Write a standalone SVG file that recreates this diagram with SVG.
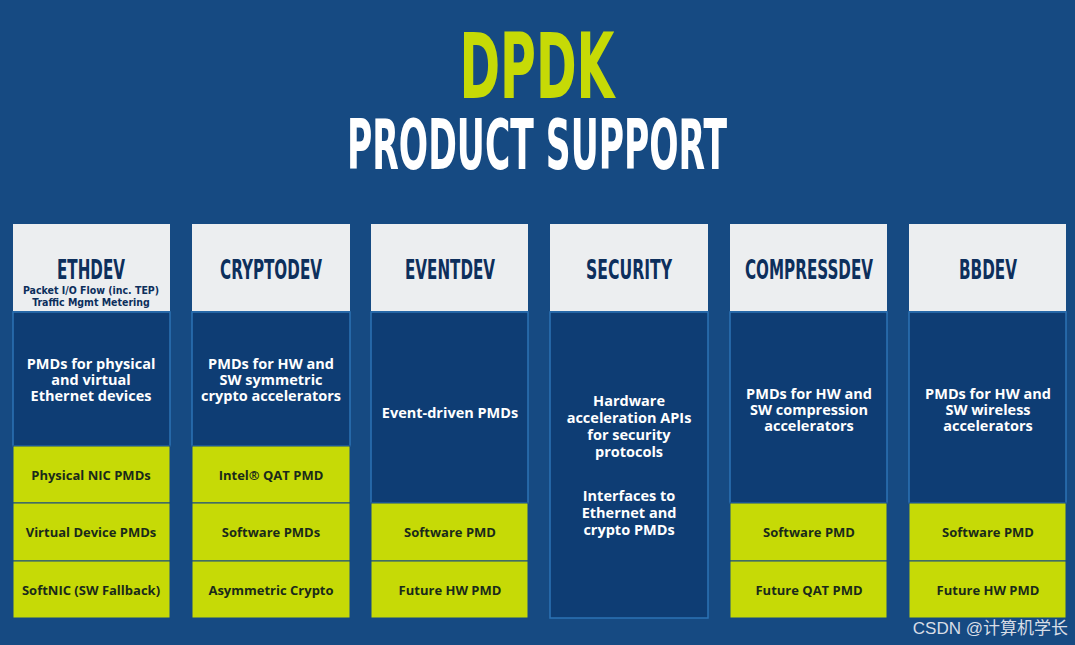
<svg xmlns="http://www.w3.org/2000/svg" width="1075" height="645" viewBox="0 0 1075 645">
<style>
.hd{fill:#eceef0}
.bd{fill:#0e3d74;stroke:#2d73b5;stroke-width:1.5}
.gr{fill:#c6da06;stroke:#174a82;stroke-width:1}
.ht{font-family:"Liberation Sans Narrow","DejaVu Sans Condensed",sans-serif;font-weight:bold;font-size:27px;fill:#0d2f5c;text-anchor:middle}
.st{font-family:"DejaVu Sans Condensed","DejaVu Sans",sans-serif;font-weight:bold;font-size:10.5px;fill:#0d2f5c;text-anchor:middle}
.bt{font-family:"Open Sans","DejaVu Sans",sans-serif;font-weight:bold;font-size:14.5px;fill:#ffffff;text-anchor:middle}
.gt{font-family:"Open Sans","DejaVu Sans",sans-serif;font-weight:bold;font-size:13px;fill:#1a2a1a;text-anchor:middle}
</style>
<rect width="1075" height="645" fill="#164a82"/>
<text x="537" y="98" text-anchor="middle" font-family="Liberation Sans Narrow,DejaVu Sans Condensed,sans-serif" font-weight="bold" font-size="90" fill="#c6da06" textLength="155" lengthAdjust="spacingAndGlyphs">DPDK</text>
<text x="537" y="169" text-anchor="middle" font-family="Liberation Sans Narrow,DejaVu Sans Condensed,sans-serif" font-weight="bold" font-size="70" fill="#ffffff" textLength="380" lengthAdjust="spacingAndGlyphs">PRODUCT SUPPORT</text>
<g id="ethdev">
<rect class="hd" x="13" y="224" width="157" height="87"/>
<text class="ht" x="91" y="279" textLength="68" lengthAdjust="spacingAndGlyphs">ETHDEV</text>
<text class="st" x="91" y="294">Packet I/O Flow (inc. TEP)<tspan x="91" dy="12">Traffic Mgmt Metering</tspan></text>
<rect class="bd" x="13" y="312" width="157" height="134"/>
<text class="bt" x="91" y="369">PMDs for physical<tspan x="91" dy="16">and virtual</tspan><tspan x="91" dy="16">Ethernet devices</tspan></text>
<rect class="gr" x="13" y="446" width="157" height="57"/><text class="gt" x="91" y="480">Physical NIC PMDs</text>
<rect class="gr" x="13" y="503" width="157" height="58"/><text class="gt" x="91" y="537">Virtual Device PMDs</text>
<rect class="gr" x="13" y="561" width="157" height="57"/><text class="gt" x="91" y="595">SoftNIC (SW Fallback)</text>
</g>
<g id="cryptodev">
<rect class="hd" x="192" y="224" width="158" height="87"/>
<text class="ht" x="271" y="279" textLength="102" lengthAdjust="spacingAndGlyphs">CRYPTODEV</text>
<rect class="bd" x="192" y="312" width="158" height="134"/>
<text class="bt" x="271" y="369">PMDs for HW and<tspan x="271" dy="16">SW symmetric</tspan><tspan x="271" dy="16">crypto accelerators</tspan></text>
<rect class="gr" x="192" y="446" width="158" height="57"/><text class="gt" x="271" y="480">Intel® QAT PMD</text>
<rect class="gr" x="192" y="503" width="158" height="58"/><text class="gt" x="271" y="537">Software PMDs</text>
<rect class="gr" x="192" y="561" width="158" height="57"/><text class="gt" x="271" y="595">Asymmetric Crypto</text>
</g>
<g id="eventdev">
<rect class="hd" x="371" y="224" width="157" height="87"/>
<text class="ht" x="450" y="279" textLength="90" lengthAdjust="spacingAndGlyphs">EVENTDEV</text>
<rect class="bd" x="371" y="312" width="157" height="191"/>
<text class="bt" x="450" y="418">Event-driven PMDs</text>
<rect class="gr" x="371" y="503" width="157" height="58"/><text class="gt" x="450" y="537">Software PMD</text>
<rect class="gr" x="371" y="561" width="157" height="57"/><text class="gt" x="450" y="595">Future HW PMD</text>
</g>
<g id="security">
<rect class="hd" x="550" y="224" width="158" height="87"/>
<text class="ht" x="629" y="279" textLength="86" lengthAdjust="spacingAndGlyphs">SECURITY</text>
<rect class="bd" x="550" y="312" width="158" height="306"/>
<text class="bt" x="629" y="406">Hardware<tspan x="629" dy="17">acceleration APIs</tspan><tspan x="629" dy="17">for security</tspan><tspan x="629" dy="17">protocols</tspan></text>
<text class="bt" x="629" y="501">Interfaces to<tspan x="629" dy="17">Ethernet and</tspan><tspan x="629" dy="17">crypto PMDs</tspan></text>
</g>
<g id="compressdev">
<rect class="hd" x="730" y="224" width="157" height="87"/>
<text class="ht" x="809" y="279" textLength="128" lengthAdjust="spacingAndGlyphs">COMPRESSDEV</text>
<rect class="bd" x="730" y="312" width="157" height="191"/>
<text class="bt" x="809" y="399">PMDs for HW and<tspan x="809" dy="16">SW compression</tspan><tspan x="809" dy="16">accelerators</tspan></text>
<rect class="gr" x="730" y="503" width="157" height="58"/><text class="gt" x="809" y="537">Software PMD</text>
<rect class="gr" x="730" y="561" width="157" height="57"/><text class="gt" x="809" y="595">Future QAT PMD</text>
</g>
<g id="bbdev">
<rect class="hd" x="909" y="224" width="157" height="87"/>
<text class="ht" x="988" y="279" textLength="58" lengthAdjust="spacingAndGlyphs">BBDEV</text>
<rect class="bd" x="909" y="312" width="157" height="191"/>
<text class="bt" x="988" y="399">PMDs for HW and<tspan x="988" dy="16">SW wireless</tspan><tspan x="988" dy="16">accelerators</tspan></text>
<rect class="gr" x="909" y="503" width="157" height="58"/><text class="gt" x="988" y="537">Software PMD</text>
<rect class="gr" x="909" y="561" width="157" height="57"/><text class="gt" x="988" y="595">Future HW PMD</text>
</g>
<g id="connectors"/>
<text x="1068" y="634" text-anchor="end" font-family="Liberation Sans,Noto Sans CJK SC,sans-serif" font-size="17" fill="#d8dde6">CSDN @计算机学长</text>
</svg>
